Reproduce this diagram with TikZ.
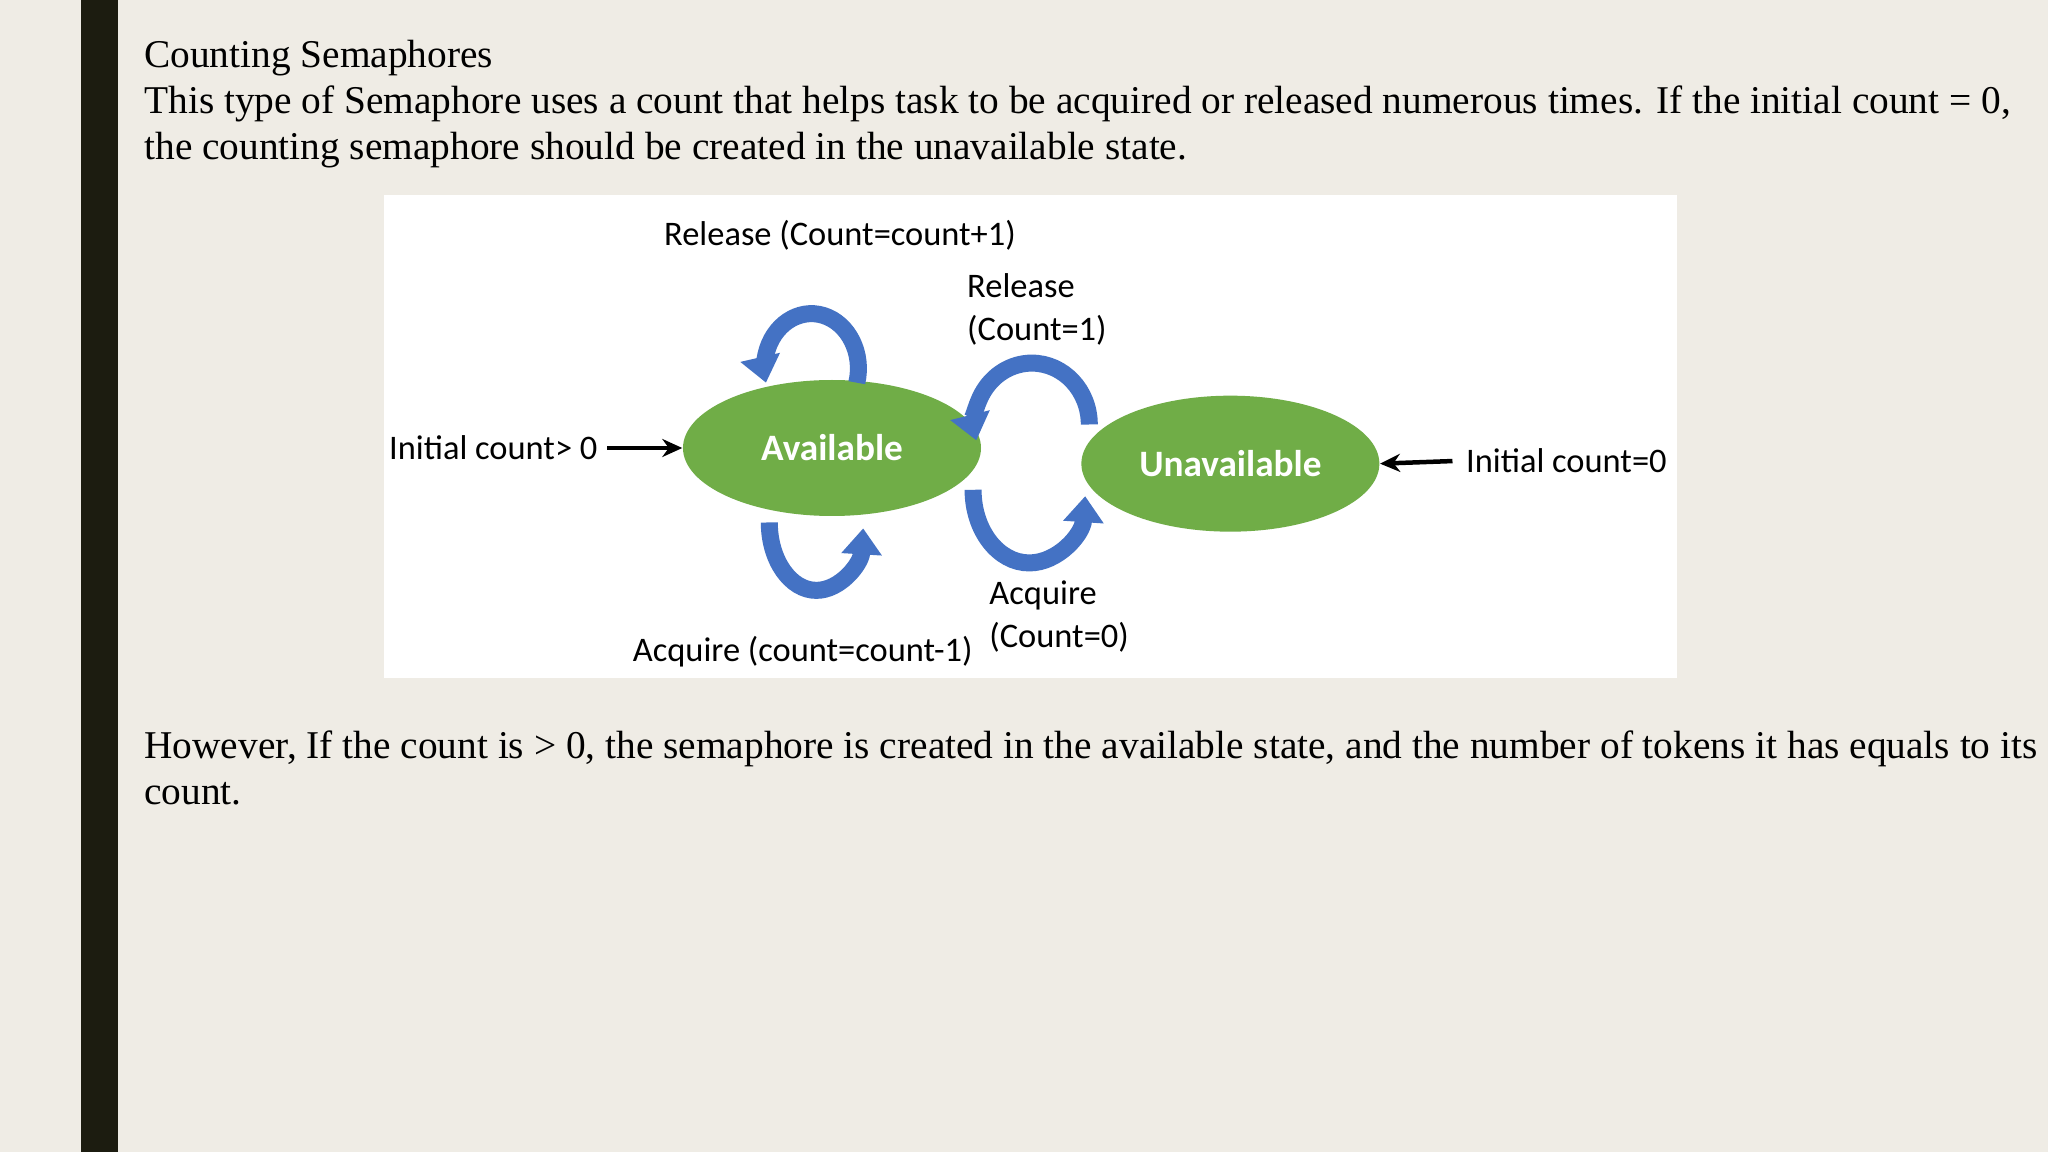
\documentclass[tikz,border=0pt]{standalone}
\usepackage{fontspec}
\setmainfont{Liberation Serif}
\newfontfamily\calfont{Carlito}
\usetikzlibrary{arrows.meta,shapes.geometric}
\definecolor{bg}{HTML}{EFECE5}
\definecolor{bar}{HTML}{1C1C10}
\definecolor{grn}{HTML}{70AD47}
\definecolor{blu}{HTML}{4472C4}
\tikzset{
 body/.style={anchor=base west,inner sep=0,font=\fontsize{11.2}{13}\selectfont},
 lab/.style={inner sep=0,font=\calfont\fontsize{9.8}{12.4}\selectfont,align=left},
 st/.style={ellipse,fill=grn,inner sep=0,minimum width=2.98cm,minimum height=1.36cm,text=white,font=\calfont\bfseries\fontsize{10.6}{12}\selectfont},
 loop/.style={blu,line width=0.17cm,-{Triangle[length=0.26cm,width=0.39cm]}},
 inarr/.style={black,line width=0.045cm,-{Stealth[length=0.2cm,width=0.18cm]}}
}
\begin{document}
\begin{tikzpicture}[x=0.013061cm,y=-0.013061cm]
\fill[bg] (0,0) rectangle (1568,882);
\useasboundingbox (0,0) rectangle (1568,882);
\fill[bar] (62,0) rectangle (90,882);
\node[body] (t1) at (110,52) {Counting Semaphores};
\node[body] (t2) at (110,87) {This type of Semaphore uses a count that helps task to be acquired or released numerous times. If the initial count = 0,};
\node[body] (t3) at (110,122) {the counting semaphore should be created in the unavailable state.};
\node[body] (t4) at (110,581) {However, If the count is > 0, the semaphore is created in the available state, and the number of tokens it has equals to its};
\node[body] (t5) at (110,616) {count.};
\fill[white] (294,149) rectangle (1284,519);
\node[st] (av) at (637,343) {Available};
\node[st] (un) at (942,355) {Unavailable};
\node[lab,anchor=west] (l1) at (508,180) {Release (Count=count+1)};
\node[lab,anchor=west] (l2) at (740,237) {Release\\(Count=1)};
\node[lab,anchor=east] (l3) at (458,343) {Initial count> 0};
\node[lab,anchor=west] (l4) at (1122,353) {Initial count=0};
\node[lab,anchor=west] (l5) at (757,472) {Acquire\\(Count=0)};
\node[lab,anchor=west] (l6) at (484,499) {Acquire (count=count-1)};
\draw[inarr] ([xshift=0.09cm]l3.east) -- (av.west);
\draw[inarr] ([xshift=-0.13cm]l4.west) -- (un.east);
\draw[loop] (656,293) arc[start angle=15,end angle=-195,x radius=36,y radius=42];
\draw[loop] (589,400) arc[start angle=-180,end angle=-355,x radius=36,y radius=52];
\draw[loop] (834,325) arc[start angle=0,end angle=-195,x radius=44,y radius=47];
\draw[loop] (745,375) arc[start angle=-180,end angle=-355,x radius=43,y radius=56];
\end{tikzpicture}
\end{document}
